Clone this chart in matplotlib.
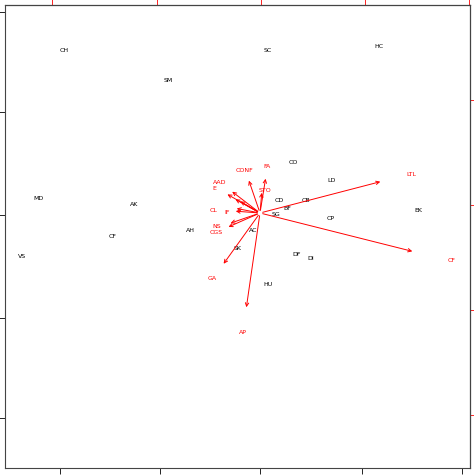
import matplotlib
matplotlib.use("Agg")
import matplotlib.pyplot as plt

# observation scores (pixel-scaled plot coordinates)
obs_labels = ["CH","SC","HC","SM","CO","LD","MD","AK","EK","CF","AH","VS","CD","CB","BF","SG","CP","AC","SK","DF","DI","HU"]
obs_x = [64,268,379,168,293,332,38,134,418,113,190,22,279,306,287,276,331,253,238,297,311,268]
obs_y = [50,51,47,81,162,180,199,204,211,236,230,257,201,200,208,214,219,231,248,255,258,284]

# variable loadings: arrow tips and label positions
var_labels = ["LTL","CF","AP","GA","NS","CGS","CL","IF","AAD","E","","","CONF","FA","STO"]
tip_x = [383,415,246,222,228,226,234,233,225,230,233,238,248,266,262]
tip_y = [181,252,310,266,224,228,208,211,193,190,198,200,178,176,190]
lab_x = [411,452,243,212,217,216,214,227,220,214,0,0,245,267,265]
lab_y = [175,261,332,278,227,232,210,213,183,189,0,0,170,166,190]
origin = (260, 213)

fig = plt.figure(figsize=(4.74, 4.75), dpi=100)
ax = fig.add_axes([5/474, 7/475, 465/474, 463/475])
ax.set_xlim(5, 470)
ax.set_ylim(468, 5)
for s in ax.spines.values():
    s.set_color("#444444"); s.set_linewidth(0.8)

for lab, x, y in zip(obs_labels, obs_x, obs_y):
    ax.text(x, y, lab, fontsize=4.5, ha="center", va="center", color="black")

for lab, tx, ty, lx, ly in zip(var_labels, tip_x, tip_y, lab_x, lab_y):
    ax.annotate("", xy=(tx, ty), xytext=origin,
                arrowprops=dict(arrowstyle="->", color="red", lw=0.7, mutation_scale=6))
    if lab:
        ax.text(lx, ly, lab, fontsize=4.5, ha="center", va="center", color="red")

ax.set_xticks([60,160,260,362,462])
ax.set_yticks([12,112,215,318,418])
ax.tick_params(labelbottom=False, labelleft=False, length=4, width=0.6, direction="out")
sec = ax.secondary_xaxis("top")
sec.set_ticks([52,157,261,365,469]); sec.tick_params(colors="red", labeltop=False, length=4, width=0.6)
sec2 = ax.secondary_yaxis("right")
sec2.set_ticks([100,205,310,415]); sec2.tick_params(colors="red", labelright=False, length=4, width=0.6)
fig.savefig("out.png", dpi=100)
